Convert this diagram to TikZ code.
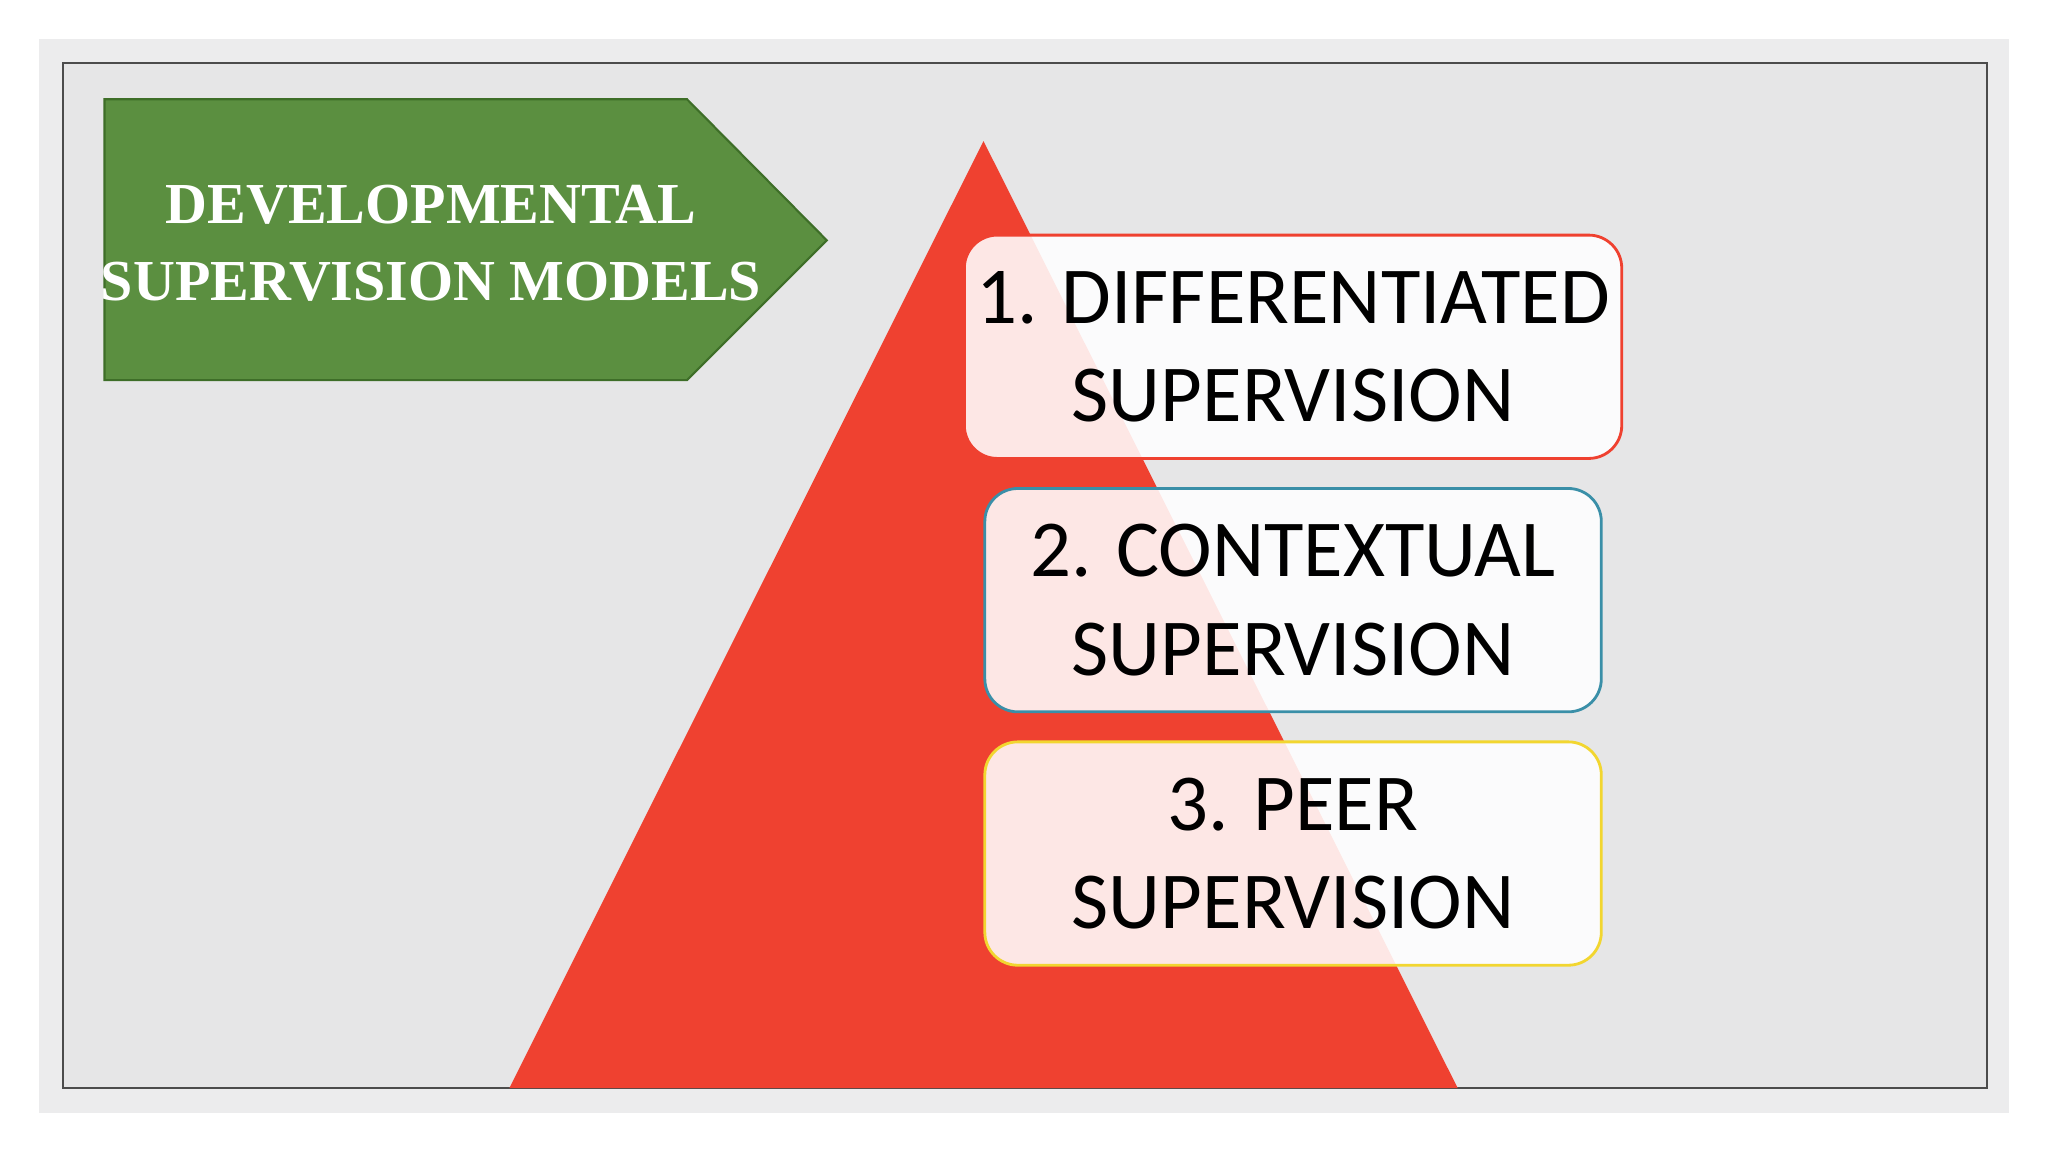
\documentclass[tikz,border=0pt]{standalone}
\usepackage{fontspec}
\setmainfont{Carlito}
\newfontfamily\titlefont{Liberation Serif}
\definecolor{slidegray}{RGB}{230,230,231}
\definecolor{bandgray}{RGB}{236,236,237}
\definecolor{pyrred}{RGB}{239,65,48}
\definecolor{greenfill}{RGB}{91,143,64}
\definecolor{greenline}{RGB}{62,110,40}
\definecolor{tealline}{RGB}{58,143,168}
\definecolor{yellowline}{RGB}{242,214,48}
\begin{document}
\begin{tikzpicture}[x=0.013061cm,y=-0.013061cm,
  item/.style={draw, line width=0.8pt, rounded corners=0.33cm, fill=white, fill opacity=0.88,
    text opacity=1, minimum width=472*0.013061cm, minimum height=171*0.013061cm,
    align=center, font=\fontsize{23}{28}\selectfont, text=black}]
  \useasboundingbox (0,0) rectangle (1568,882);
  \fill[white] (0,0) rectangle (1568,882);
  \fill[bandgray] (30,30) rectangle (1538,852);
  \draw[fill=slidegray, draw=black!70, line width=0.5pt] (48,48) rectangle (1521,833);
  % pyramid
  \fill[pyrred] (753,108) -- (1116,833) -- (390,833) -- cycle;
  % title arrow
  \draw[fill=greenfill, draw=greenline, line width=0.6pt]
    (80,76) -- (526,76) -- (633,184) -- (526,291) -- (80,291) -- cycle;
  \node[text=white, align=center, font=\titlefont\bfseries\fontsize{16.5}{22}\selectfont] (title) at (330,186)
    {DEVELOPMENTAL\\SUPERVISION MODELS};
  % items
  \node[item, draw=pyrred] (b1) at (990,265.5) {1. DIFFERENTIATED\\SUPERVISION};
  \node[item, draw=tealline] (b2) at (990,459.5) {2. CONTEXTUAL\\SUPERVISION};
  \node[item, draw=yellowline] (b3) at (990,653.5) {3. PEER\\SUPERVISION};
\end{tikzpicture}
\end{document}
